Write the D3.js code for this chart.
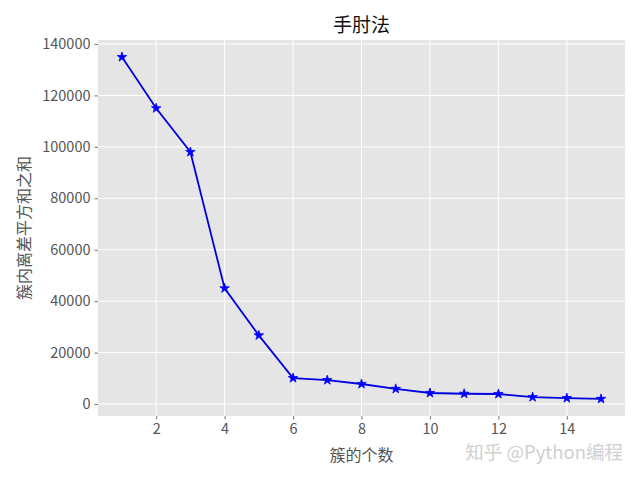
<!DOCTYPE html>
<html>
<head>
<meta charset="utf-8">
<script src="https://cdn.jsdelivr.net/npm/d3@7"></script>
<style>
  body { margin: 0; background: #fff; }
  text { font-family: "Noto Sans CJK SC", "DejaVu Sans", sans-serif; }
</style>
</head>
<body>
<svg id="main-svg" width="640" height="480"></svg>
<script>
var clusters = [1, 2, 3, 4, 5, 6, 7, 8, 9, 10, 11, 12, 13, 14, 15];
var sse = [134900, 115000, 98000, 45000, 26700, 10100, 9300, 7800, 5900, 4300, 4000, 3900, 2700, 2300, 2000];
var xTicks = [2, 4, 6, 8, 10, 12, 14];
var yTicks = [0, 20000, 40000, 60000, 80000, 100000, 120000, 140000];

var svg = d3.select("#main-svg");
var plotLeft = 98, plotRight = 625, plotTop = 40, plotBottom = 416;

var x = d3.scaleLinear().domain([0.3, 15.7]).range([plotLeft, plotRight]);
var ymin = d3.min(sse), ymax = d3.max(sse), pad = (ymax - ymin) * 0.05;
var y = d3.scaleLinear().domain([ymin - pad, ymax + pad]).range([plotBottom, plotTop]);

svg.append("rect")
   .attr("x", plotLeft).attr("y", plotTop)
   .attr("width", plotRight - plotLeft).attr("height", plotBottom - plotTop)
   .style("fill", "#E5E5E5");

// grid
svg.append("g").selectAll("line").data(xTicks).enter().append("line")
   .attr("x1", function(d){ return x(d); }).attr("x2", function(d){ return x(d); })
   .attr("y1", plotTop).attr("y2", plotBottom)
   .style("stroke", "#fff").style("stroke-width", 1);
svg.append("g").selectAll("line").data(yTicks).enter().append("line")
   .attr("y1", function(d){ return y(d); }).attr("y2", function(d){ return y(d); })
   .attr("x1", plotLeft).attr("x2", plotRight)
   .style("stroke", "#fff").style("stroke-width", 1);

var xAxis = svg.append("g")
   .attr("transform", "translate(0," + plotBottom + ")")
   .call(d3.axisBottom(x).tickValues(xTicks).tickSize(3.5).tickPadding(4).tickFormat(d3.format("d")));
var yAxis = svg.append("g")
   .attr("transform", "translate(" + plotLeft + ",0)")
   .call(d3.axisLeft(y).tickValues(yTicks).tickSize(3.5).tickPadding(4).tickFormat(d3.format("d")));
[xAxis, yAxis].forEach(function(a){
  a.select(".domain").remove();
  a.selectAll("line").style("stroke", "#555").style("stroke-width", 0.8);
  a.selectAll("text").style("fill", "#555").style("font-size", "14.5px")
   .style("font-family", "'Noto Sans CJK SC', sans-serif");
});

var line = d3.line()
   .x(function(d, i){ return x(clusters[i]); })
   .y(function(d){ return y(d); });

svg.append("path").datum(sse)
   .attr("d", line)
   .style("fill", "none").style("stroke", "#0000e0").style("stroke-width", 1.8);

var star = d3.symbol().type(d3.symbolStar).size(28);
svg.append("g").selectAll("path").data(sse).enter().append("path")
   .attr("d", star)
   .attr("transform", function(d, i){ return "translate(" + x(clusters[i]) + "," + y(d) + ")"; })
   .style("fill", "#0000ff").style("stroke", "#0000ff").style("stroke-width", 0.8);

svg.append("text")
   .attr("x", (plotLeft + plotRight) / 2).attr("y", 32)
   .attr("text-anchor", "middle")
   .style("font-size", "19px").style("fill", "#111")
   .text("手肘法");

svg.append("text")
   .attr("x", (plotLeft + plotRight) / 2).attr("y", 461)
   .attr("text-anchor", "middle")
   .style("font-size", "16px").style("fill", "#555")
   .text("簇的个数");

svg.append("text")
   .attr("transform", "translate(30," + ((plotTop + plotBottom) / 2) + ") rotate(-90)")
   .attr("text-anchor", "middle")
   .style("font-size", "16px").style("fill", "#555")
   .text("簇内离差平方和之和");

svg.append("text")
   .attr("x", 623).attr("y", 459)
   .attr("text-anchor", "end")
   .style("font-size", "18.5px").style("fill", "#d0d0d0")
   .text("知乎 @Python编程");
</script>
</body>
</html>
